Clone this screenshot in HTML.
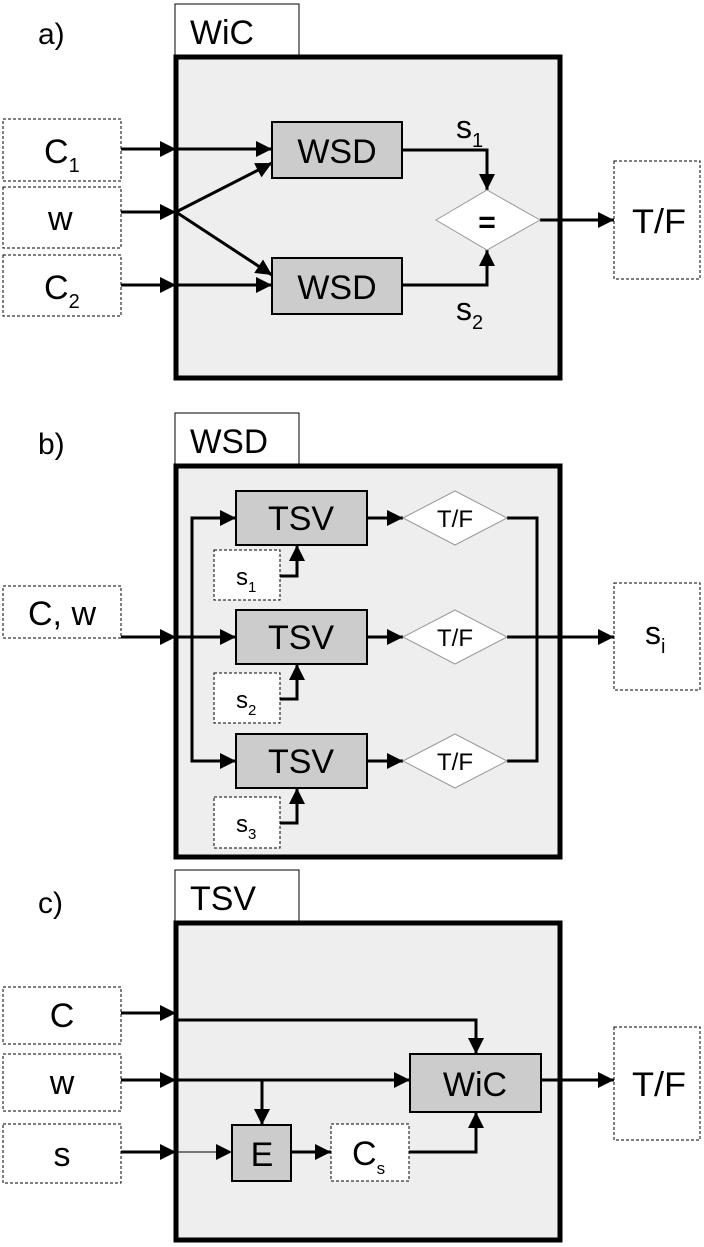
<!DOCTYPE html>
<html><head><meta charset="utf-8"><style>
html,body{margin:0;padding:0;background:#fff}
svg{display:block}
text{font-family:"Liberation Sans",sans-serif;fill:#000}
</style></head><body>
<svg width="704" height="1247" viewBox="0 0 704 1247" xmlns="http://www.w3.org/2000/svg">
<defs>
<marker id="b" markerWidth="16" markerHeight="16" refX="16" refY="8" orient="auto" markerUnits="userSpaceOnUse" viewBox="0 0 16 16"><path d="M0,0 L16,8 L0,16 z" fill="#000"/></marker>
</defs>
<g stroke="#000" fill="none">
<!-- ===== a ===== -->
<text x="38" y="44" font-size="30" stroke="none">a)</text>
<rect x="175" y="4" width="124" height="53" fill="#fff" stroke-width="1"/>
<text x="190" y="44" font-size="34" stroke="none" textLength="64" lengthAdjust="spacingAndGlyphs">WiC</text>
<rect x="176" y="57" width="384" height="321" fill="#eee" stroke-width="5"/>
<g stroke-dasharray="3,2" stroke-width="1" fill="#fff">
<rect x="3" y="119" width="118" height="62"/><rect x="3" y="187" width="118" height="61"/><rect x="3" y="255" width="118" height="61"/>
<rect x="614" y="161" width="86" height="118"/>
</g>
<text x="44" y="163" font-size="34" stroke="none">C<tspan font-size="20" dy="9">1</tspan></text>
<text x="48" y="230" font-size="34" stroke="none">w</text>
<text x="44" y="299" font-size="34" stroke="none">C<tspan font-size="20" dy="9">2</tspan></text>
<text x="632" y="233" font-size="34" stroke="none" textLength="54" lengthAdjust="spacingAndGlyphs">T/F</text>
<g stroke-width="3">
<line x1="121" y1="149" x2="176" y2="149" marker-end="url(#b)"/>
<line x1="121" y1="212" x2="176" y2="212" marker-end="url(#b)"/>
<line x1="121" y1="285" x2="176" y2="285" marker-end="url(#b)"/>
<line x1="176" y1="149" x2="272" y2="149" marker-end="url(#b)"/>
<line x1="176" y1="285" x2="272" y2="285" marker-end="url(#b)"/>
<line x1="176" y1="212" x2="272" y2="163" marker-end="url(#b)"/>
<line x1="176" y1="212" x2="272" y2="275" marker-end="url(#b)"/>
<polyline points="402,150 487,150 487,190" marker-end="url(#b)"/>
<polyline points="402,285 487,285 487,250" marker-end="url(#b)"/>
<line x1="540" y1="220" x2="614" y2="220" marker-end="url(#b)"/>
</g>
<rect x="272" y="122" width="130" height="56" fill="#ccc" stroke-width="2"/>
<rect x="272" y="258" width="130" height="56" fill="#ccc" stroke-width="2"/>
<text x="337" y="163" font-size="34" text-anchor="middle" stroke="none">WSD</text>
<text x="337" y="299" font-size="34" text-anchor="middle" stroke="none">WSD</text>
<polygon points="436,220 487,190 540,220 487,250" fill="#fff" stroke="#999" stroke-width="1"/>
<text x="487" y="232" font-size="30" font-weight="bold" text-anchor="middle" stroke="none">=</text>
<text x="456" y="138" font-size="32" stroke="none">s<tspan font-size="20" dy="9">1</tspan></text>
<text x="456" y="320" font-size="32" stroke="none">s<tspan font-size="20" dy="9">2</tspan></text>

<!-- ===== b ===== -->
<text x="38" y="454" font-size="30" stroke="none">b)</text>
<rect x="175" y="413" width="124" height="52" fill="#fff" stroke-width="1"/>
<text x="190" y="453" font-size="34" stroke="none" textLength="78" lengthAdjust="spacingAndGlyphs">WSD</text>
<rect x="176" y="466" width="384" height="391" fill="#eee" stroke-width="5"/>
<g stroke-dasharray="3,2" stroke-width="1" fill="#fff">
<rect x="3" y="586" width="118" height="52"/>
<rect x="614" y="583" width="86" height="107"/>
<rect x="214" y="550" width="66" height="50"/><rect x="214" y="673" width="66" height="50"/><rect x="214" y="797" width="66" height="51"/>
</g>
<text x="62" y="625" font-size="34" text-anchor="middle" stroke="none">C, w</text>
<text x="645" y="644" font-size="32" stroke="none">s<tspan font-size="20" dy="9">i</tspan></text>
<text x="236" y="585" font-size="24" stroke="none">s<tspan font-size="15" dy="7">1</tspan></text>
<text x="236" y="708" font-size="24" stroke="none">s<tspan font-size="15" dy="7">2</tspan></text>
<text x="236" y="832" font-size="24" stroke="none">s<tspan font-size="15" dy="7">3</tspan></text>
<g stroke-width="3">
<line x1="121" y1="637" x2="176" y2="637" marker-end="url(#b)"/>
<line x1="176" y1="637" x2="236" y2="637" marker-end="url(#b)"/>
<polyline points="236,518 192,518 192,761 236,761"/>
<line x1="192" y1="518" x2="236" y2="518" marker-end="url(#b)"/>
<line x1="192" y1="761" x2="236" y2="761" marker-end="url(#b)"/>
<line x1="367" y1="518" x2="403" y2="518" marker-end="url(#b)"/>
<line x1="367" y1="637" x2="403" y2="637" marker-end="url(#b)"/>
<line x1="367" y1="761" x2="403" y2="761" marker-end="url(#b)"/>
<polyline points="280,576 297,576 297,545" marker-end="url(#b)"/>
<polyline points="280,699 297,699 297,664" marker-end="url(#b)"/>
<polyline points="280,823 297,823 297,788" marker-end="url(#b)"/>
<polyline points="507,518 537,518 537,761 507,761"/>
<line x1="507" y1="637" x2="614" y2="637" marker-end="url(#b)"/>
</g>
<g fill="#ccc" stroke-width="2">
<rect x="236" y="491" width="131" height="54"/><rect x="236" y="610" width="131" height="54"/><rect x="236" y="734" width="131" height="54"/>
</g>
<g fill="#fff" stroke="#999" stroke-width="1">
<polygon points="403,518 455,491 507,518 455,545"/><polygon points="403,637 455,610 507,637 455,664"/><polygon points="403,761 455,734 507,761 455,788"/>
</g>
<g font-size="34" text-anchor="middle" stroke="none">
<text x="301" y="530">TSV</text><text x="301" y="649">TSV</text><text x="301" y="773">TSV</text>
</g>
<g font-size="24" text-anchor="middle" stroke="none">
<text x="455" y="527">T/F</text><text x="455" y="646">T/F</text><text x="455" y="770">T/F</text>
</g>

<!-- ===== c ===== -->
<text x="38" y="913" font-size="30" stroke="none">c)</text>
<rect x="175" y="870" width="124" height="52" fill="#fff" stroke-width="1"/>
<text x="190" y="910" font-size="34" stroke="none" textLength="66" lengthAdjust="spacingAndGlyphs">TSV</text>
<rect x="176" y="923" width="384" height="317" fill="#eee" stroke-width="5"/>
<g stroke-dasharray="3,2" stroke-width="1" fill="#fff">
<rect x="3" y="987" width="118" height="57"/><rect x="3" y="1054" width="118" height="57"/><rect x="3" y="1124" width="118" height="59"/>
<rect x="614" y="1027" width="86" height="113"/>
<rect x="331" y="1124" width="78" height="57"/>
</g>
<text x="62" y="1027" font-size="34" text-anchor="middle" stroke="none">C</text>
<text x="62" y="1094" font-size="34" text-anchor="middle" stroke="none">w</text>
<text x="62" y="1166" font-size="34" text-anchor="middle" stroke="none">s</text>
<text x="632" y="1096" font-size="34" stroke="none" textLength="54" lengthAdjust="spacingAndGlyphs">T/F</text>
<text x="352" y="1165" font-size="34" stroke="none">C<tspan font-size="17" dy="9">s</tspan></text>
<g stroke-width="3">
<line x1="121" y1="1013" x2="176" y2="1013" marker-end="url(#b)"/>
<line x1="121" y1="1080" x2="176" y2="1080" marker-end="url(#b)"/>
<line x1="121" y1="1152" x2="176" y2="1152" marker-end="url(#b)"/>
<polyline points="176,1020 476,1020 476,1054" marker-end="url(#b)"/>
<line x1="176" y1="1080" x2="410" y2="1080" marker-end="url(#b)"/>
<polyline points="262,1080 262,1125" marker-end="url(#b)"/>
<line x1="291" y1="1152" x2="331" y2="1152" marker-end="url(#b)"/>
<polyline points="409,1152 476,1152 476,1112" marker-end="url(#b)"/>
<line x1="541" y1="1080" x2="614" y2="1080" marker-end="url(#b)"/>
</g>
<line x1="176" y1="1152" x2="232" y2="1152" stroke-width="1" marker-end="url(#b)"/>
<rect x="410" y="1054" width="131" height="58" fill="#ccc" stroke-width="2"/>
<rect x="232" y="1125" width="59" height="56" fill="#ccc" stroke-width="2"/>
<text x="475" y="1096" font-size="34" text-anchor="middle" stroke="none">WiC</text>
<text x="262" y="1166" font-size="34" text-anchor="middle" stroke="none">E</text>
</g>
</svg>
</body></html>
